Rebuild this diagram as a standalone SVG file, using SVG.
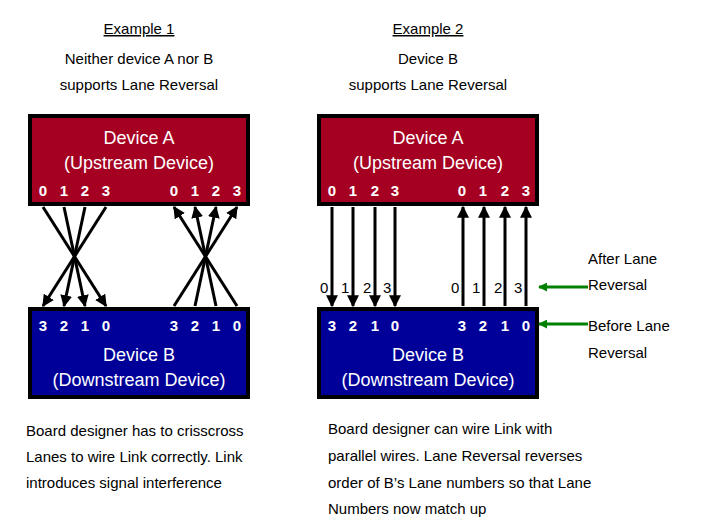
<svg xmlns="http://www.w3.org/2000/svg" width="707" height="528" viewBox="0 0 707 528">
<style>
text{font-family:"Liberation Sans",Arial,sans-serif;fill:#000;font-size:15px}
.c{text-anchor:middle}
.big{font-size:18px;fill:#fff;text-anchor:middle}
.ln{font-size:15px;fill:#fff;font-weight:bold;text-anchor:middle}
.w{stroke:#000;stroke-width:3;fill:none}
.g{stroke:#008000;stroke-width:3;fill:none}
</style>
<defs>
<marker id="ah" viewBox="0 0 10 10" refX="9" refY="5" markerWidth="4" markerHeight="4" orient="auto" markerUnits="strokeWidth"><path d="M0,0L10,5L0,10z" fill="#000"/></marker>
<marker id="gh" viewBox="0 0 10 10" refX="9" refY="5" markerWidth="3" markerHeight="3" orient="auto" markerUnits="strokeWidth"><path d="M0,0L10,5L0,10z" fill="#008000"/></marker>
</defs>
<rect width="707" height="528" fill="#fff"/>
<g id="titles">
<text class="c" x="139" y="34" text-decoration="underline">Example 1</text>
<text class="c" x="139" y="64">Neither device  A nor B</text>
<text class="c" x="139" y="90">supports Lane Reversal</text>
<text class="c" x="428" y="34" text-decoration="underline">Example 2</text>
<text class="c" x="428" y="64">Device B</text>
<text class="c" x="428" y="90">supports Lane Reversal</text>
</g>
<g id="ex1-deviceA">
<rect x="30" y="116" width="218" height="88" fill="#a50021" stroke="#000" stroke-width="4"/>
<text class="big" x="139" y="144">Device A</text>
<text class="big" x="139" y="169">(Upstream Device)</text>
<text class="ln" x="43" y="196">0</text><text class="ln" x="64" y="196">1</text><text class="ln" x="85" y="196">2</text><text class="ln" x="106" y="196">3</text>
<text class="ln" x="174" y="196">0</text><text class="ln" x="195" y="196">1</text><text class="ln" x="216" y="196">2</text><text class="ln" x="237" y="196">3</text>
</g>
<g id="ex1-deviceB">
<rect x="30" y="309" width="218" height="88" fill="#000099" stroke="#000" stroke-width="4"/>
<text class="ln" x="43" y="331">3</text><text class="ln" x="64" y="331">2</text><text class="ln" x="85" y="331">1</text><text class="ln" x="106" y="331">0</text>
<text class="ln" x="174" y="331">3</text><text class="ln" x="195" y="331">2</text><text class="ln" x="216" y="331">1</text><text class="ln" x="237" y="331">0</text>
<text class="big" x="139" y="361">Device B</text>
<text class="big" x="139" y="386">(Downstream Device)</text>
</g>
<g id="ex2-deviceA">
<rect x="319" y="116" width="218" height="88" fill="#a50021" stroke="#000" stroke-width="4"/>
<text class="big" x="428" y="144">Device A</text>
<text class="big" x="428" y="169">(Upstream Device)</text>
<text class="ln" x="332" y="196">0</text><text class="ln" x="353" y="196">1</text><text class="ln" x="375" y="196">2</text><text class="ln" x="395" y="196">3</text>
<text class="ln" x="462" y="196">0</text><text class="ln" x="483" y="196">1</text><text class="ln" x="505" y="196">2</text><text class="ln" x="526" y="196">3</text>
</g>
<g id="ex2-deviceB">
<rect x="319" y="309" width="218" height="88" fill="#000099" stroke="#000" stroke-width="4"/>
<text class="ln" x="332" y="331">3</text><text class="ln" x="353" y="331">2</text><text class="ln" x="375" y="331">1</text><text class="ln" x="395" y="331">0</text>
<text class="ln" x="462" y="331">3</text><text class="ln" x="483" y="331">2</text><text class="ln" x="505" y="331">1</text><text class="ln" x="526" y="331">0</text>
<text class="big" x="428" y="361">Device B</text>
<text class="big" x="428" y="386">(Downstream Device)</text>
</g>
<g id="connectors">
<line class="w" x1="43" y1="207" x2="106" y2="306" marker-end="url(#ah)"/>
<line class="w" x1="64" y1="207" x2="85" y2="306" marker-end="url(#ah)"/>
<line class="w" x1="85" y1="207" x2="64" y2="306" marker-end="url(#ah)"/>
<line class="w" x1="106" y1="207" x2="43" y2="306" marker-end="url(#ah)"/>
<line class="w" x1="237" y1="306" x2="174" y2="207" marker-end="url(#ah)"/>
<line class="w" x1="216" y1="306" x2="195" y2="207" marker-end="url(#ah)"/>
<line class="w" x1="195" y1="306" x2="216" y2="207" marker-end="url(#ah)"/>
<line class="w" x1="174" y1="306" x2="237" y2="207" marker-end="url(#ah)"/>
<line class="w" x1="332" y1="207" x2="332" y2="306" marker-end="url(#ah)"/>
<line class="w" x1="353" y1="207" x2="353" y2="306" marker-end="url(#ah)"/>
<line class="w" x1="375" y1="207" x2="375" y2="306" marker-end="url(#ah)"/>
<line class="w" x1="395" y1="207" x2="395" y2="306" marker-end="url(#ah)"/>
<line class="w" x1="463" y1="306" x2="463" y2="207" marker-end="url(#ah)"/>
<line class="w" x1="484" y1="306" x2="484" y2="207" marker-end="url(#ah)"/>
<line class="w" x1="505" y1="306" x2="505" y2="207" marker-end="url(#ah)"/>
<line class="w" x1="526" y1="306" x2="526" y2="207" marker-end="url(#ah)"/>
<line class="g" x1="588" y1="287" x2="539" y2="287" marker-end="url(#gh)"/>
<line class="g" x1="588" y1="324" x2="539" y2="324" marker-end="url(#gh)"/>
</g>
<g id="labels">
<text x="320" y="293">0</text><text x="341" y="293">1</text><text x="363" y="293">2</text><text x="383" y="293">3</text>
<text x="451" y="293">0</text><text x="472" y="293">1</text><text x="494" y="293">2</text><text x="514" y="293">3</text>
<text x="588" y="264">After Lane</text>
<text x="588" y="290">Reversal</text>
<text x="588" y="331">Before Lane</text>
<text x="588" y="358">Reversal</text>
<text x="26" y="436">Board designer has to crisscross</text>
<text x="26" y="462">Lanes to wire Link correctly. Link</text>
<text x="26" y="488">introduces signal interference</text>
<text x="328" y="434">Board designer can wire Link with</text>
<text x="328" y="461">parallel wires. Lane Reversal reverses</text>
<text x="328" y="488">order of B’s Lane numbers so that Lane</text>
<text x="328" y="514">Numbers now match up</text>
</g>
</svg>
